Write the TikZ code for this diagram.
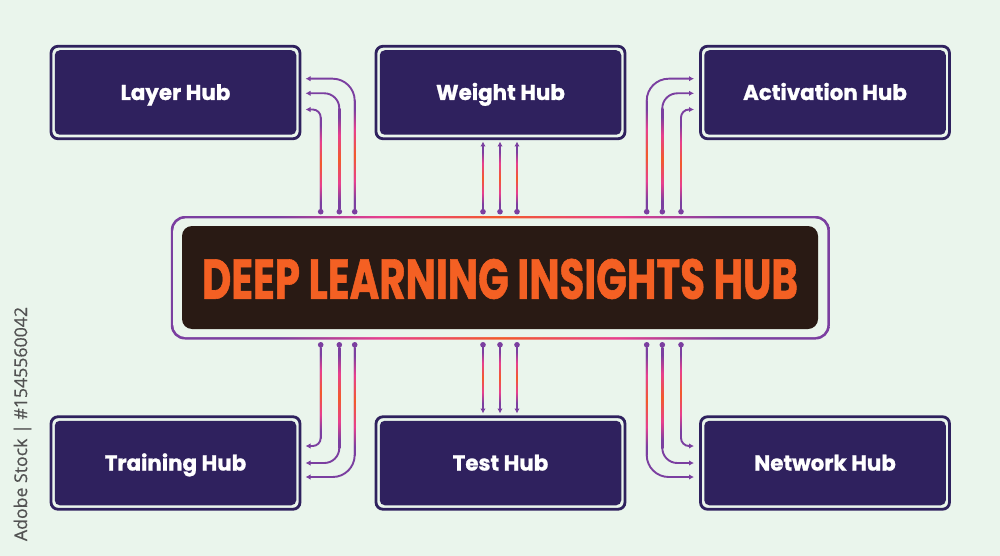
\documentclass[tikz,border=0pt]{standalone}
\usepackage{fontspec}
\setmainfont{Poppins}[BoldFeatures={FakeBold=1.1}]
\newfontfamily\stockfont{Open Sans}[FakeBold=0.5]
\usetikzlibrary{arrows.meta}
\definecolor{pagebg}{HTML}{EAF5EC}
\definecolor{hubnavy}{HTML}{2F215E}
\definecolor{coredark}{HTML}{291A14}
\definecolor{coreorange}{HTML}{F46023}
\definecolor{wirepurple}{HTML}{7B3FA0}
\definecolor{wirepink}{HTML}{E83F8E}
\definecolor{wireorange}{HTML}{F25A2A}
\pgfdeclareverticalshading{wirefade}{100bp}{color(0bp)=(wirepurple); color(29bp)=(wirepurple); color(38bp)=(wirepink); color(50bp)=(wireorange); color(62bp)=(wirepink); color(71bp)=(wirepurple); color(100bp)=(wirepurple)}
\pgfdeclarehorizontalshading{framefade}{100bp}{color(0bp)=(wirepurple); color(33bp)=(wirepurple); color(41bp)=(wirepink); color(50bp)=(wireorange); color(59bp)=(wirepink); color(67bp)=(wirepurple); color(100bp)=(wirepurple)}
\tikzset{
  hubframe/.style={draw=hubnavy,line width=2.8pt,rounded corners=7pt,minimum width=249pt,minimum height=92.5pt,inner sep=0pt,outer sep=0pt},
  hubcard/.style={fill=hubnavy,text=white,font=\bfseries\fontsize{21.4}{25}\selectfont,text height=15pt,text depth=0pt,rounded corners=5pt,minimum width=241.5pt,minimum height=84.5pt,inner sep=0pt,outer sep=0pt},
  wiredot/.style={circle,fill=wirepurple,minimum size=5.6pt,inner sep=0pt,outer sep=0pt},
  wirelink/.style={draw=wirepurple,line width=1.9pt,-{Latex[length=5pt,width=5.4pt]}},
}
\newcommand{\wirebar}[3]{\shade[shading=wirefade] (#1-.95,#2) rectangle (#1+.95,#3);}
\begin{document}
\begin{tikzpicture}[x=1pt,y=-1pt]
\useasboundingbox (0,0) rectangle (1000,556);
\fill[pagebg] (0,0) rectangle (1000,556);
\node[rotate=90,text=black!68,font=\stockfont\fontsize{17.7}{21}\selectfont,inner sep=0pt] (stockline) at (22.5,424) {Adobe Stock | \#1545560042};

% outer hubs
\node[hubframe] (layerframe) at (175.5,92.5) {};
\node[hubcard] (layerhub) at (175.5,92.5) {Layer Hub};
\node[hubframe] (weightframe) at (500.5,92.5) {};
\node[hubcard] (weighthub) at (500.5,92.5) {Weight Hub};
\node[hubframe] (activframe) at (825,92.5) {};
\node[hubcard] (activhub) at (825,92.5) {Activation Hub};
\node[hubframe] (trainframe) at (175.5,463) {};
\node[hubcard] (trainhub) at (175.5,463) {Training Hub};
\node[hubframe] (testframe) at (500.5,463) {};
\node[hubcard] (testhub) at (500.5,463) {Test Hub};
\node[hubframe] (netframe) at (825,463) {};
\node[hubcard] (nethub) at (825,463) {Network Hub};

% centre block
\shade[shading=framefade,rounded corners=14pt] (170.8,216) rectangle (829.8,339.5);
\fill[pagebg,rounded corners=12.5pt] (173.2,218.4) rectangle (827.4,337.1);
\node[fill=coredark,rounded corners=10pt,minimum width=636pt,minimum height=103pt,inner sep=0pt,outer sep=0pt] (corehub) at (500,277.5) {};
\node[text=coreorange,inner sep=0pt] (coretitle) at (500,279) {\resizebox{596pt}{40pt}{\bfseries DEEP LEARNING INSIGHTS HUB}};

% layer hub wires
\node[wiredot] (la) at (320.7,211.7) {};
\node[wiredot] (lb) at (339.3,211.7) {};
\node[wiredot] (lc) at (354.7,211.7) {};
\coordinate (laend) at (305.5,109.5);
\coordinate (lbend) at (305.5,93.3);
\coordinate (lcend) at (305.5,78.7);
\draw[wirelink,rounded corners=8pt] (la) |- (laend);
\draw[wirelink,rounded corners=15pt] (lb) |- (lbend);
\draw[wirelink,rounded corners=22pt] (lc) |- (lcend);
\wirebar{320.7}{118}{209}
\wirebar{339.3}{109}{209}
\wirebar{354.7}{101}{209}

% weight hub wires
\node[wiredot] (wa) at (483,211.7) {};
\node[wiredot] (wb) at (500,211.7) {};
\node[wiredot] (wc) at (517,211.7) {};
\coordinate (waend) at (483,141.5);
\coordinate (wbend) at (500,141.5);
\coordinate (wcend) at (517,141.5);
\draw[wirelink] (wa) -- (waend);
\draw[wirelink] (wb) -- (wbend);
\draw[wirelink] (wc) -- (wcend);
\wirebar{483}{147}{209}
\wirebar{500}{147}{209}
\wirebar{517}{147}{209}

% activation hub wires
\node[wiredot] (aa) at (646.7,211.7) {};
\node[wiredot] (ab) at (662.3,211.7) {};
\node[wiredot] (ac) at (681,211.7) {};
\coordinate (aaend) at (694,78.7);
\coordinate (abend) at (694,93.3);
\coordinate (acend) at (694,109.5);
\draw[wirelink,rounded corners=22pt] (aa) |- (aaend);
\draw[wirelink,rounded corners=15pt] (ab) |- (abend);
\draw[wirelink,rounded corners=8pt] (ac) |- (acend);
\wirebar{646.7}{101}{209}
\wirebar{662.3}{109}{209}
\wirebar{681}{118}{209}

% training hub wires
\node[wiredot] (ta) at (320.7,344.8) {};
\node[wiredot] (tb) at (339.3,344.8) {};
\node[wiredot] (tc) at (354.7,344.8) {};
\coordinate (taend) at (305.5,446);
\coordinate (tbend) at (305.5,463);
\coordinate (tcend) at (305.5,477);
\draw[wirelink,rounded corners=8pt] (ta) |- (taend);
\draw[wirelink,rounded corners=15pt] (tb) |- (tbend);
\draw[wirelink,rounded corners=22pt] (tc) |- (tcend);
\wirebar{320.7}{347}{438}
\wirebar{339.3}{347}{448}
\wirebar{354.7}{347}{455}

% test hub wires
\node[wiredot] (sa) at (483,344.8) {};
\node[wiredot] (sb) at (500,344.8) {};
\node[wiredot] (sc) at (517,344.8) {};
\coordinate (saend) at (483,413.5);
\coordinate (sbend) at (500,413.5);
\coordinate (scend) at (517,413.5);
\draw[wirelink] (sa) -- (saend);
\draw[wirelink] (sb) -- (sbend);
\draw[wirelink] (sc) -- (scend);
\wirebar{483}{347}{408}
\wirebar{500}{347}{408}
\wirebar{517}{347}{408}

% network hub wires
\node[wiredot] (na) at (646.7,344.8) {};
\node[wiredot] (nb) at (662.3,344.8) {};
\node[wiredot] (nc) at (681,344.8) {};
\coordinate (naend) at (694,477);
\coordinate (nbend) at (694,463);
\coordinate (ncend) at (694,446);
\draw[wirelink,rounded corners=22pt] (na) |- (naend);
\draw[wirelink,rounded corners=15pt] (nb) |- (nbend);
\draw[wirelink,rounded corners=8pt] (nc) |- (ncend);
\wirebar{646.7}{347}{455}
\wirebar{662.3}{347}{448}
\wirebar{681}{347}{438}
\end{tikzpicture}
\end{document}
